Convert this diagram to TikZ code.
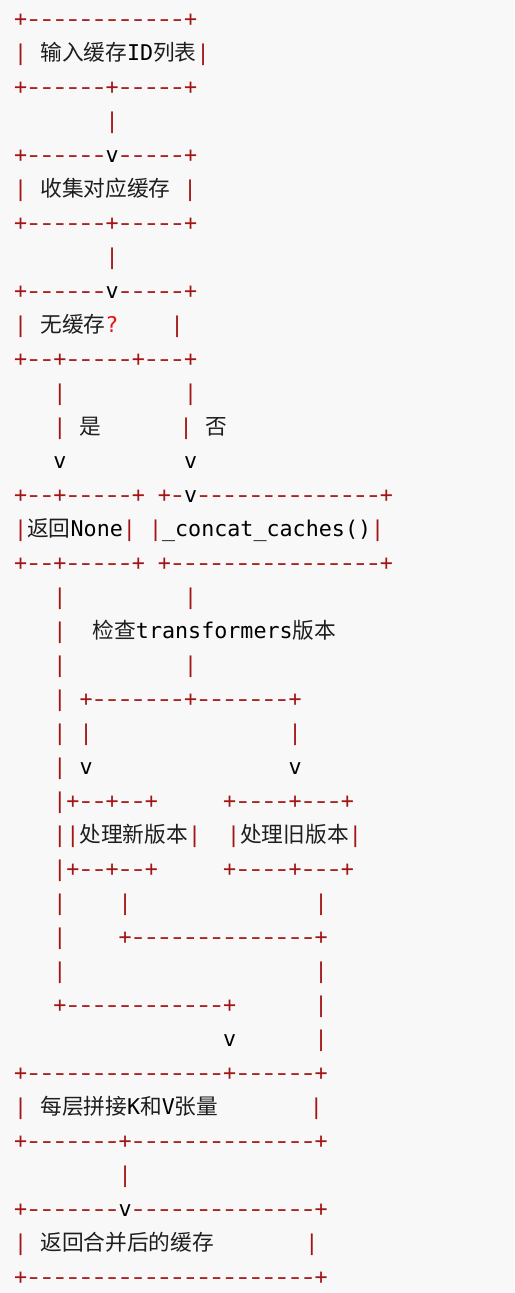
\documentclass[tikz,border=0pt]{standalone}
\usepackage{graphicx}
\usepackage{fontspec}
\setmonofont{DejaVu Sans Mono}
\newfontfamily\cjk{Noto Sans CJK SC}
\definecolor{art}{RGB}{163,21,21}
\definecolor{qred}{RGB}{235,20,20}
\definecolor{bg}{RGB}{248,248,248}
\definecolor{cjktext}{RGB}{30,30,30}
\newlength\cw
\setlength\cw{13.064pt}
\def\Rloop#1{\ifx#1\relax\else\ifx#1-\makebox[\cw]{\scalebox{1.35}[1]{-}}\else#1\fi\expandafter\Rloop\fi}
\newcommand\R[1]{\textcolor{art}{\Rloop#1\relax}}
\newcommand\Q{\textcolor{qred}{?}}
\newcommand\C[1]{{\cjk\color{cjktext}#1}}
\newcommand\s[1]{\hspace*{#1\cw}}
\tikzset{codeline/.style={anchor=base west,inner sep=0pt,outer sep=0pt,
  font=\ttfamily\fontsize{21.7pt}{34pt}\selectfont,text=black}}
\begin{document}
\begin{tikzpicture}[x=1pt,y=-1pt]
\fill[bg] (0,0) rectangle (514,1293);
\useasboundingbox (0,0) rectangle (514,1293);
\def\X{14.2}
\node[codeline] (l1)  at (\X,26+34*0)  {\R{+------------+}};
\node[codeline] (l2)  at (\X,26+34*1)  {\R{|}\s{1}\C{输入缓存}ID\C{列表}\R{|}};
\node[codeline] (l3)  at (\X,26+34*2)  {\R{+------+-----+}};
\node[codeline] (l4)  at (\X,26+34*3)  {\s{7}\R{|}};
\node[codeline] (l5)  at (\X,26+34*4)  {\R{+------}v\R{-----+}};
\node[codeline] (l6)  at (\X,26+34*5)  {\R{|}\s{1}\C{收集对应缓存}\s{1}\R{|}};
\node[codeline] (l7)  at (\X,26+34*6)  {\R{+------+-----+}};
\node[codeline] (l8)  at (\X,26+34*7)  {\s{7}\R{|}};
\node[codeline] (l9)  at (\X,26+34*8)  {\R{+------}v\R{-----+}};
\node[codeline] (l10) at (\X,26+34*9)  {\R{|}\s{1}\C{无缓存}\Q\s{4}\R{|}};
\node[codeline] (l11) at (\X,26+34*10) {\R{+--+-----+---+}};
\node[codeline] (l12) at (\X,26+34*11) {\s{3}\R{|}\s{9}\R{|}};
\node[codeline] (l13) at (\X,26+34*12) {\s{3}\R{|}\s{1}\C{是}\s{6}\R{|}\s{1}\C{否}};
\node[codeline] (l14) at (\X,26+34*13) {\s{3}v\s{9}v};
\node[codeline] (l15) at (\X,26+34*14) {\R{+--+-----+}\s{1}\R{+-}v\R{--------------+}};
\node[codeline] (l16) at (\X,26+34*15) {\R{|}\C{返回}None\R{|}\s{1}\R{|}\_concat\_caches()\R{|}};
\node[codeline] (l17) at (\X,26+34*16) {\R{+--+-----+}\s{1}\R{+----------------+}};
\node[codeline] (l18) at (\X,26+34*17) {\s{3}\R{|}\s{9}\R{|}};
\node[codeline] (l19) at (\X,26+34*18) {\s{3}\R{|}\s{2}\C{检查}transformers\C{版本}};
\node[codeline] (l20) at (\X,26+34*19) {\s{3}\R{|}\s{9}\R{|}};
\node[codeline] (l21) at (\X,26+34*20) {\s{3}\R{|}\s{1}\R{+-------+-------+}};
\node[codeline] (l22) at (\X,26+34*21) {\s{3}\R{|}\s{1}\R{|}\s{15}\R{|}};
\node[codeline] (l23) at (\X,26+34*22) {\s{3}\R{|}\s{1}v\s{15}v};
\node[codeline] (l24) at (\X,26+34*23) {\s{3}\R{|+--+--+}\s{5}\R{+----+---+}};
\node[codeline] (l25) at (\X,26+34*24) {\s{3}\R{||}\C{处理新版本}\R{|}\s{2}\R{|}\C{处理旧版本}\R{|}};
\node[codeline] (l26) at (\X,26+34*25) {\s{3}\R{|+--+--+}\s{5}\R{+----+---+}};
\node[codeline] (l27) at (\X,26+34*26) {\s{3}\R{|}\s{4}\R{|}\s{14}\R{|}};
\node[codeline] (l28) at (\X,26+34*27) {\s{3}\R{|}\s{4}\R{+--------------+}};
\node[codeline] (l29) at (\X,26+34*28) {\s{3}\R{|}\s{19}\R{|}};
\node[codeline] (l30) at (\X,26+34*29) {\s{3}\R{+------------+}\s{6}\R{|}};
\node[codeline] (l31) at (\X,26+34*30) {\s{16}v\s{6}\R{|}};
\node[codeline] (l32) at (\X,26+34*31) {\R{+---------------+------+}};
\node[codeline] (l33) at (\X,26+34*32) {\R{|}\s{1}\C{每层拼接}K\C{和}V\C{张量}\s{7}\R{|}};
\node[codeline] (l34) at (\X,26+34*33) {\R{+-------+--------------+}};
\node[codeline] (l35) at (\X,26+34*34) {\s{8}\R{|}};
\node[codeline] (l36) at (\X,26+34*35) {\R{+-------}v\R{--------------+}};
\node[codeline] (l37) at (\X,26+34*36) {\R{|}\s{1}\C{返回合并后的缓存}\s{7}\R{|}};
\node[codeline] (l38) at (\X,26+34*37) {\R{+----------------------+}};
\end{tikzpicture}
\end{document}
